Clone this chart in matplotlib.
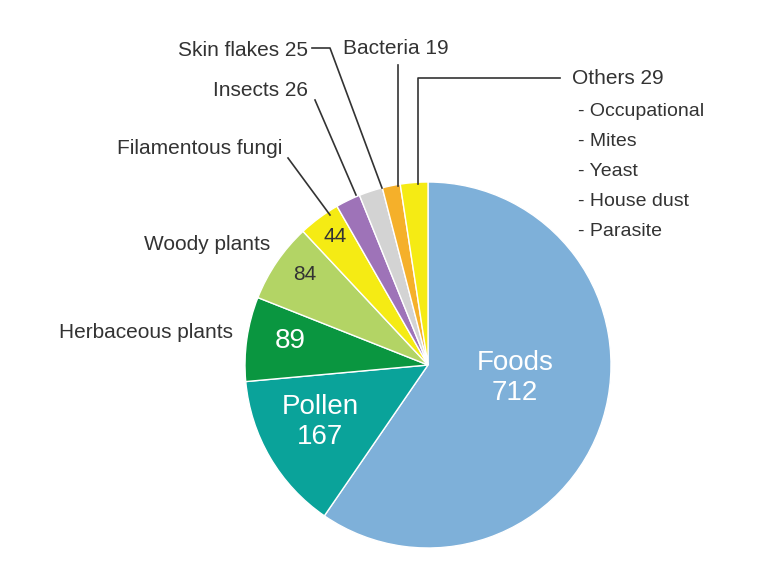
import matplotlib.pyplot as plt

plt.rcParams['font.family'] = ['Liberation Sans', 'DejaVu Sans']

categories = ["Foods", "Pollen", "Herbaceous plants", "Woody plants", "Filamentous fungi",
              "Insects", "Skin flakes", "Bacteria", "Others"]
values = [712, 167, 89, 84, 44, 26, 25, 19, 29]
colors = ["#7EB0D9", "#0AA39A", "#0A9640", "#B3D465", "#F5EB14",
          "#9E73B8", "#D3D3D3", "#F5B02A", "#F5EB14"]
others_list = ["- Occupational", "- Mites", "- Yeast", "- House dust", "- Parasite"]

H = 586
fig = plt.figure(figsize=(7.68, 5.86), dpi=100)
ax = fig.add_axes([0, 0, 1, 1])
ax.set_xlim(0, 768)
ax.set_ylim(0, H)
ax.set_aspect('equal')
ax.axis('off')

cx, cy, r = 428, H - 365, 183
ax.pie(values, colors=colors, startangle=90, counterclock=False,
       center=(cx, cy), radius=r, frame=True,
       wedgeprops=dict(edgecolor='white', linewidth=1))
ax.set_xlim(0, 768)
ax.set_ylim(0, H)
ax.axis('off')

def t(x, y, s, **kw):
    kw.setdefault('fontsize', 15)
    kw.setdefault('color', '#333333')
    ax.text(x, H - y, s, **kw)

def line(pts):
    ax.plot([p[0] for p in pts], [H - p[1] for p in pts], color='#333333', lw=1.2)

# inside labels
t(515, 378, "Foods\n712", fontsize=20, color='white', ha='center', va='center', linespacing=1.2)
t(320, 422, "Pollen\n167", fontsize=20, color='white', ha='center', va='center', linespacing=1.2)
t(290, 341, str(values[2]), fontsize=20, color='white', ha='center', va='center')
t(305, 275, str(values[3]), fontsize=15, ha='center', va='center')
t(335, 237, str(values[4]), fontsize=15, ha='center', va='center')

# outside labels
t(233, 332, categories[2], ha='right', va='center')
t(270, 245, categories[3], ha='right', va='center')
t(282, 148, categories[4], ha='right', va='center')
t(308, 90, f"{categories[5]} {values[5]}", ha='right', va='center')
t(308, 50, f"{categories[6]} {values[6]}", ha='right', va='center')
t(343, 48, f"{categories[7]} {values[7]}", ha='left', va='center')
t(572, 78, f"{categories[8]} {values[8]}", ha='left', va='center')
for i, s in enumerate(others_list):
    t(578, 111 + i * 30, s, fontsize=14, ha='left', va='center')

line([(288, 158), (330, 215)])
line([(315, 100), (356, 195)])
line([(312, 48), (330, 48), (382, 188)])
line([(398, 65), (398, 186)])
line([(560, 78), (418, 78), (418, 184)])

fig.savefig("out.png", dpi=100)
